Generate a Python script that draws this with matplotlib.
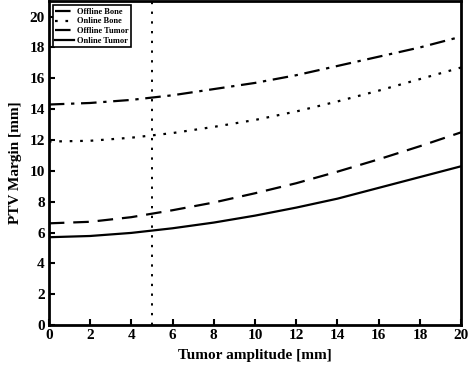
import matplotlib
matplotlib.use("Agg")
import matplotlib.pyplot as plt

amplitude = [0, 2, 4, 6, 8, 10, 12, 14, 16, 18, 20]
offline_bone = [14.3, 14.4, 14.6, 14.9, 15.3, 15.7, 16.2, 16.8, 17.4, 18.0, 18.7]
online_bone = [11.9, 11.95, 12.15, 12.45, 12.85, 13.3, 13.85, 14.5, 15.2, 15.95, 16.7]
offline_tumor = [6.6, 6.7, 7.0, 7.45, 7.95, 8.55, 9.2, 9.95, 10.75, 11.6, 12.5]
online_tumor = [5.7, 5.78, 5.98, 6.28, 6.65, 7.1, 7.62, 8.2, 8.9, 9.6, 10.3]
marker_amp = 5
xticks = list(range(0, 21, 2))
yticks = list(range(0, 21, 2))

plt.rcParams['font.family'] = ['Liberation Serif', 'DejaVu Serif']
plt.rcParams['font.weight'] = 'bold'

fig = plt.figure(figsize=(4.74, 3.79), dpi=100)
ax = fig.add_axes([0.103, 0.142, 0.870, 0.855])

lw = 1.6
ax.plot(amplitude, offline_bone, color='black', lw=lw, dashes=(7, 3, 1.5, 3), label='Offline Bone')
ax.plot(amplitude, online_bone, color='black', lw=lw, dashes=(1.2, 3.5), label='Online Bone')
ax.plot(amplitude, offline_tumor, color='black', lw=lw, dashes=(7, 4), label='Offline Tumor')
ax.plot(amplitude, online_tumor, color='black', lw=lw, label='Online Tumor')
ax.axvline(marker_amp, color='black', lw=1.4, dashes=(1.2, 3.8))

ax.set_xlim(0, 20)
ax.set_ylim(0, 21)
ax.set_xticks(xticks)
ax.set_yticks(yticks)
ax.tick_params(direction='in', length=4, width=1.5, labelsize=11, pad=3)
for lab in ax.get_xticklabels() + ax.get_yticklabels():
    lab.set_fontweight('bold')
for s in ax.spines.values():
    s.set_linewidth(2)

ax.set_xlabel('Tumor amplitude [mm]', fontsize=11, fontweight='bold', labelpad=5)
ax.set_ylabel('PTV Margin [mm]', fontsize=11, fontweight='bold', labelpad=5)

leg = ax.legend(loc='upper left', fontsize=6, handlelength=2.2, handletextpad=0.4,
                borderpad=0.3, labelspacing=0.2, fancybox=False, framealpha=1,
                borderaxespad=0.5)
leg.get_frame().set_edgecolor('black')
leg.get_frame().set_linewidth(1.2)
for t in leg.get_texts():
    t.set_fontweight('bold')

fig.savefig('out.png', dpi=100)
